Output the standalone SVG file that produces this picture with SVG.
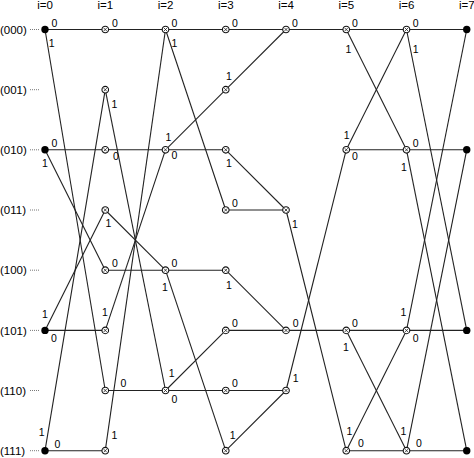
<svg xmlns="http://www.w3.org/2000/svg" xmlns:xlink="http://www.w3.org/1999/xlink" width="474" height="458" viewBox="0 0 474 458">
<style>
text{font-family:"Liberation Sans",Arial,sans-serif;fill:#000}
.hd{font-size:11.5px;text-anchor:middle}
.rl{font-size:11.5px}
.lb{font-size:10.5px;text-anchor:middle}
.e{stroke:#222;stroke-width:1.1;fill:none}
.dot{stroke:#555;stroke-width:0.8;stroke-dasharray:1 1}
.f{fill:#000}
.h{fill:#fff;stroke:#111;stroke-width:1.1}
.x{stroke:#222;stroke-width:0.8}
</style>
<defs>
<g id="hol"><circle class="h" r="3.3"/><path class="x" d="M-1.6,-1.6L1.6,1.6M-1.6,1.6L1.6,-1.6"/></g>
<circle id="fil" class="f" r="3.7"/>
</defs>
<rect width="474" height="458" fill="#fff"/>
<g id="headers">
<text class="hd" x="45" y="9">i=0</text>
<text class="hd" x="105.25" y="9">i=1</text>
<text class="hd" x="165.5" y="9">i=2</text>
<text class="hd" x="225.75" y="9">i=3</text>
<text class="hd" x="286" y="9">i=4</text>
<text class="hd" x="346.25" y="9">i=5</text>
<text class="hd" x="406.5" y="9">i=6</text>
<text class="hd" x="466.75" y="9">i=7</text>
</g>
<g id="rows">
<text class="rl" x="0" y="33.6">(000)</text><line class="dot" x1="30" y1="29.5" x2="40" y2="29.5"/>
<text class="rl" x="0" y="93.8">(001)</text><line class="dot" x1="30" y1="89.7" x2="40" y2="89.7"/>
<text class="rl" x="0" y="153.9">(010)</text><line class="dot" x1="30" y1="149.8" x2="40" y2="149.8"/>
<text class="rl" x="0" y="214.1">(011)</text><line class="dot" x1="30" y1="210" x2="40" y2="210"/>
<text class="rl" x="0" y="274.3">(100)</text><line class="dot" x1="30" y1="270.2" x2="40" y2="270.2"/>
<text class="rl" x="0" y="334.5">(101)</text><line class="dot" x1="30" y1="330.4" x2="40" y2="330.4"/>
<text class="rl" x="0" y="394.6">(110)</text><line class="dot" x1="30" y1="390.5" x2="40" y2="390.5"/>
<text class="rl" x="0" y="454.8">(111)</text><line class="dot" x1="30" y1="450.7" x2="40" y2="450.7"/>
</g>
<g id="connectors">
<line class="e" x1="45" y1="29.5" x2="105.25" y2="29.5"/>
<line class="e" x1="45" y1="29.5" x2="105.25" y2="390.5"/>
<line class="e" x1="45" y1="149.8" x2="105.25" y2="149.8"/>
<line class="e" x1="45" y1="149.8" x2="105.25" y2="270.2"/>
<line class="e" x1="45" y1="330.4" x2="105.25" y2="330.4"/>
<line class="e" x1="45" y1="330.4" x2="105.25" y2="210"/>
<line class="e" x1="45" y1="450.7" x2="105.25" y2="450.7"/>
<line class="e" x1="45" y1="450.7" x2="105.25" y2="89.7"/>
<line class="e" x1="105.25" y1="29.5" x2="165.5" y2="29.5"/>
<line class="e" x1="105.25" y1="89.7" x2="165.5" y2="390.5"/>
<line class="e" x1="105.25" y1="149.8" x2="165.5" y2="149.8"/>
<line class="e" x1="105.25" y1="210" x2="165.5" y2="270.2"/>
<line class="e" x1="105.25" y1="270.2" x2="165.5" y2="270.2"/>
<line class="e" x1="105.25" y1="330.4" x2="165.5" y2="149.8"/>
<line class="e" x1="105.25" y1="390.5" x2="165.5" y2="390.5"/>
<line class="e" x1="105.25" y1="450.7" x2="165.5" y2="29.5"/>
<line class="e" x1="165.5" y1="29.5" x2="225.75" y2="29.5"/>
<line class="e" x1="165.5" y1="29.5" x2="225.75" y2="210"/>
<line class="e" x1="165.5" y1="149.8" x2="225.75" y2="89.7"/>
<line class="e" x1="165.5" y1="149.8" x2="225.75" y2="149.8"/>
<line class="e" x1="165.5" y1="270.2" x2="225.75" y2="270.2"/>
<line class="e" x1="165.5" y1="270.2" x2="225.75" y2="450.7"/>
<line class="e" x1="165.5" y1="390.5" x2="225.75" y2="330.4"/>
<line class="e" x1="165.5" y1="390.5" x2="225.75" y2="390.5"/>
<line class="e" x1="225.75" y1="29.5" x2="286" y2="29.5"/>
<line class="e" x1="225.75" y1="89.7" x2="286" y2="29.5"/>
<line class="e" x1="225.75" y1="149.8" x2="286" y2="210"/>
<line class="e" x1="225.75" y1="210" x2="286" y2="210"/>
<line class="e" x1="225.75" y1="270.2" x2="286" y2="330.4"/>
<line class="e" x1="225.75" y1="330.4" x2="286" y2="330.4"/>
<line class="e" x1="225.75" y1="390.5" x2="286" y2="390.5"/>
<line class="e" x1="225.75" y1="450.7" x2="286" y2="390.5"/>
<line class="e" x1="286" y1="29.5" x2="346.25" y2="29.5"/>
<line class="e" x1="286" y1="210" x2="346.25" y2="450.7"/>
<line class="e" x1="286" y1="330.4" x2="346.25" y2="330.4"/>
<line class="e" x1="286" y1="390.5" x2="346.25" y2="149.8"/>
<line class="e" x1="346.25" y1="29.5" x2="406.5" y2="29.5"/>
<line class="e" x1="346.25" y1="29.5" x2="406.5" y2="149.8"/>
<line class="e" x1="346.25" y1="149.8" x2="406.5" y2="29.5"/>
<line class="e" x1="346.25" y1="149.8" x2="406.5" y2="149.8"/>
<line class="e" x1="346.25" y1="330.4" x2="406.5" y2="330.4"/>
<line class="e" x1="346.25" y1="330.4" x2="406.5" y2="450.7"/>
<line class="e" x1="346.25" y1="450.7" x2="406.5" y2="330.4"/>
<line class="e" x1="346.25" y1="450.7" x2="406.5" y2="450.7"/>
<line class="e" x1="406.5" y1="29.5" x2="466.75" y2="29.5"/>
<line class="e" x1="406.5" y1="29.5" x2="466.75" y2="330.4"/>
<line class="e" x1="406.5" y1="149.8" x2="466.75" y2="149.8"/>
<line class="e" x1="406.5" y1="149.8" x2="466.75" y2="450.7"/>
<line class="e" x1="406.5" y1="330.4" x2="466.75" y2="29.5"/>
<line class="e" x1="406.5" y1="330.4" x2="466.75" y2="330.4"/>
<line class="e" x1="406.5" y1="450.7" x2="466.75" y2="149.8"/>
<line class="e" x1="406.5" y1="450.7" x2="466.75" y2="450.7"/>
</g>
<g id="edge-labels">
<text class="lb" x="54.3" y="26.5">0</text><text class="lb" x="51.7" y="46.5">1</text>
<text class="lb" x="115" y="26.5">0</text><text class="lb" x="114.3" y="108.1">1</text>
<text class="lb" x="54.3" y="146.5">0</text><text class="lb" x="116" y="159.8">0</text>
<text class="lb" x="45" y="167.1">1</text><text class="lb" x="108.3" y="227.1">1</text>
<text class="lb" x="115" y="267.1">0</text><text class="lb" x="45" y="317.8">1</text>
<text class="lb" x="54" y="342.1">0</text><text class="lb" x="105" y="315.5">1</text>
<text class="lb" x="123.3" y="387.1">0</text><text class="lb" x="41.7" y="435.5">1</text>
<text class="lb" x="57.3" y="447.8">0</text><text class="lb" x="114.3" y="438.8">1</text>
<text class="lb" x="174.3" y="26.5">0</text><text class="lb" x="174.3" y="47.1">1</text>
<text class="lb" x="235" y="26.5">0</text><text class="lb" x="295" y="26.5">0</text>
<text class="lb" x="229" y="79.8">1</text><text class="lb" x="168.3" y="140.5">1</text>
<text class="lb" x="174.3" y="158.8">0</text>
<text class="lb" x="229" y="167.1">1</text><text class="lb" x="235" y="206.5">0</text>
<text class="lb" x="295" y="227.8">1</text><text class="lb" x="174.3" y="266.5">0</text>
<text class="lb" x="165" y="290.5">1</text><text class="lb" x="229" y="288.8">1</text>
<text class="lb" x="235" y="326.5">0</text><text class="lb" x="295.7" y="326.5">0</text>
<text class="lb" x="171.7" y="377.1">1</text><text class="lb" x="174.3" y="402.8">0</text>
<text class="lb" x="235" y="387.1">0</text><text class="lb" x="295.7" y="382.1">1</text>
<text class="lb" x="232.7" y="438.8">1</text>
<text class="lb" x="355" y="26.5">0</text><text class="lb" x="348.3" y="53.1">1</text>
<text class="lb" x="415.7" y="26.5">0</text><text class="lb" x="415.7" y="53.1">1</text>
<text class="lb" x="346.7" y="138.8">1</text><text class="lb" x="415.7" y="146.5">0</text>
<text class="lb" x="355" y="159.8">0</text><text class="lb" x="404" y="170.5">1</text>
<text class="lb" x="403.3" y="315.5">1</text><text class="lb" x="355" y="326.5">0</text>
<text class="lb" x="415.7" y="342.1">0</text><text class="lb" x="346" y="351.1">1</text>
<text class="lb" x="349.3" y="434.5">1</text><text class="lb" x="361" y="447.1">0</text>
<text class="lb" x="403.3" y="434.5">1</text><text class="lb" x="419" y="447.1">0</text>
</g>
<g id="nodes">
<g id="n0_000"><use xlink:href="#fil" x="45" y="29.5"/></g>
<g id="n0_010"><use xlink:href="#fil" x="45" y="149.8"/></g>
<g id="n0_101"><use xlink:href="#fil" x="45" y="330.4"/></g>
<g id="n0_111"><use xlink:href="#fil" x="45" y="450.7"/></g>
<g id="n1_000"><use xlink:href="#hol" x="105.25" y="29.5"/></g>
<g id="n1_001"><use xlink:href="#hol" x="105.25" y="89.7"/></g>
<g id="n1_010"><use xlink:href="#hol" x="105.25" y="149.8"/></g>
<g id="n1_011"><use xlink:href="#hol" x="105.25" y="210"/></g>
<g id="n1_100"><use xlink:href="#hol" x="105.25" y="270.2"/></g>
<g id="n1_101"><use xlink:href="#hol" x="105.25" y="330.4"/></g>
<g id="n1_110"><use xlink:href="#hol" x="105.25" y="390.5"/></g>
<g id="n1_111"><use xlink:href="#hol" x="105.25" y="450.7"/></g>
<g id="n2_000"><use xlink:href="#hol" x="165.5" y="29.5"/></g>
<g id="n2_010"><use xlink:href="#hol" x="165.5" y="149.8"/></g>
<g id="n2_100"><use xlink:href="#hol" x="165.5" y="270.2"/></g>
<g id="n2_110"><use xlink:href="#hol" x="165.5" y="390.5"/></g>
<g id="n3_000"><use xlink:href="#hol" x="225.75" y="29.5"/></g>
<g id="n3_001"><use xlink:href="#hol" x="225.75" y="89.7"/></g>
<g id="n3_010"><use xlink:href="#hol" x="225.75" y="149.8"/></g>
<g id="n3_011"><use xlink:href="#hol" x="225.75" y="210"/></g>
<g id="n3_100"><use xlink:href="#hol" x="225.75" y="270.2"/></g>
<g id="n3_101"><use xlink:href="#hol" x="225.75" y="330.4"/></g>
<g id="n3_110"><use xlink:href="#hol" x="225.75" y="390.5"/></g>
<g id="n3_111"><use xlink:href="#hol" x="225.75" y="450.7"/></g>
<g id="n4_000"><use xlink:href="#hol" x="286" y="29.5"/></g>
<g id="n4_011"><use xlink:href="#hol" x="286" y="210"/></g>
<g id="n4_101"><use xlink:href="#hol" x="286" y="330.4"/></g>
<g id="n4_110"><use xlink:href="#hol" x="286" y="390.5"/></g>
<g id="n5_000"><use xlink:href="#hol" x="346.25" y="29.5"/></g>
<g id="n5_010"><use xlink:href="#hol" x="346.25" y="149.8"/></g>
<g id="n5_101"><use xlink:href="#hol" x="346.25" y="330.4"/></g>
<g id="n5_111"><use xlink:href="#hol" x="346.25" y="450.7"/></g>
<g id="n6_000"><use xlink:href="#hol" x="406.5" y="29.5"/></g>
<g id="n6_010"><use xlink:href="#hol" x="406.5" y="149.8"/></g>
<g id="n6_101"><use xlink:href="#hol" x="406.5" y="330.4"/></g>
<g id="n6_111"><use xlink:href="#hol" x="406.5" y="450.7"/></g>
<g id="n7_000"><use xlink:href="#fil" x="466.75" y="29.5"/></g>
<g id="n7_010"><use xlink:href="#fil" x="466.75" y="149.8"/></g>
<g id="n7_101"><use xlink:href="#fil" x="466.75" y="330.4"/></g>
<g id="n7_111"><use xlink:href="#fil" x="466.75" y="450.7"/></g>
</g>
</svg>
